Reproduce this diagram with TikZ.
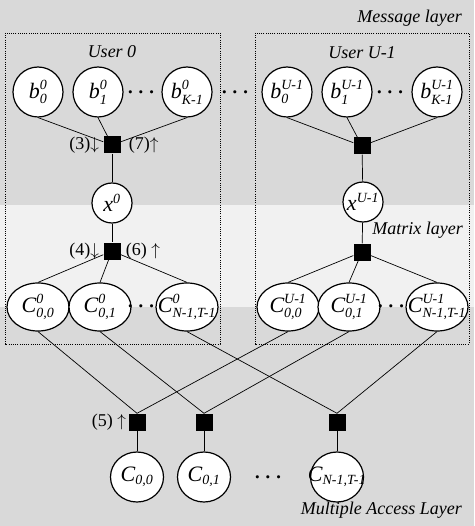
\documentclass[tikz,border=0pt]{standalone}
\usepackage{amsmath}
\usepackage{fontspec}
\setmainfont{Liberation Serif}
\usetikzlibrary{shapes.geometric,positioning}

\definecolor{layergray}{RGB}{217,217,217}
\definecolor{layerlight}{RGB}{241,241,241}

\newcommand\scr[1]{\mbox{\fontsize{14}{16}\selectfont\itshape #1}}
\newcommand\nlbl[3]{\makebox[0pt]{$\textit{#1}^{\scr{#3}}_{\scr{#2}}$}}
\newcommand\mlbl[2]{\makebox[0pt]{$\textit{#1}_{\scr{#2}}$}}

\begin{document}
\begin{tikzpicture}[x=1pt,y=1pt,yscale=-1,
  varnode/.style={circle,draw,line width=1.2pt,fill=white,minimum size=50pt,inner sep=0pt,font=\fontsize{22}{26}\selectfont},
  xnode/.style={varnode,minimum size=40pt},
  cnode/.style={ellipse,draw,line width=1.2pt,fill=white,minimum width=62pt,minimum height=48pt,inner sep=0pt,font=\fontsize{22}{26}\selectfont},
  mnode/.style={cnode,minimum width=53pt,minimum height=50pt},
  factor/.style={rectangle,fill=black,minimum size=17pt,inner sep=0pt},
  link/.style={line width=0.7pt},
  userbox/.style={line width=0.9pt,dash pattern=on 1pt off 1.2pt},
  layertext/.style={inner sep=0pt,font=\fontsize{18}{21}\selectfont\itshape},
  steplabel/.style={inner sep=0pt,font=\fontsize{18}{21}\selectfont},
  dotsnode/.style={inner sep=0pt,font=\fontsize{22}{26}\selectfont}]

% Layers
\fill[layergray] (0,0) rectangle (474,526);
\fill[layerlight] (0,205) rectangle (474,307);
\useasboundingbox (0,0) rectangle (474,526);

% Users
\draw[userbox] (5,33) rectangle (220,344);
\draw[userbox] (255,33) rectangle (469,344);

\node[layertext,anchor=east] (msg) at (462,18) {Message layer};
\node[layertext] (user0) at (112,52) {User 0};
\node[layertext] (userU) at (362,53) {User U-1};
\node[layertext,anchor=east] (mat) at (463,230) {Matrix layer};
\node[layertext,anchor=east] (mac) at (462,510) {Multiple Access Layer};

% Message layer
\node[varnode] (b00) at (38,92)  {\nlbl{b}{0}{0}};
\node[varnode] (b01) at (98,92)  {\nlbl{b}{1}{0}};
\node[varnode] (b0K) at (187,92) {\nlbl{b}{K-1}{0}};
\node[varnode] (bU0) at (287,92) {\nlbl{b}{0}{U-1}};
\node[varnode] (bU1) at (347,92) {\nlbl{b}{1}{U-1}};
\node[varnode] (bUK) at (437,92) {\nlbl{b}{K-1}{U-1}};

\node[dotsnode] (bd0) at (143,93) {$\boldsymbol{\cdots}$};
\node[dotsnode] (bdm) at (237,93) {$\boldsymbol{\cdots}$};
\node[dotsnode] (bdU) at (392,93) {$\boldsymbol{\cdots}$};

\node[factor] (fb0) at (112,145) {};
\node[factor] (fbU) at (362,146) {};

\node[steplabel,left=4pt of fb0]  (s3) {(3)$\downarrow$};
\node[steplabel,right=8pt of fb0] (s7) {(7)$\uparrow$};

\node[xnode] (x0) at (112,203) {\makebox[0pt]{$\textit{x}^{\scr{0}}$}};
\node[xnode] (xU) at (363,202) {\makebox[0pt]{$\textit{x}^{\scr{U-1}}$}};

% Matrix layer
\node[factor] (fx0) at (112,251) {};
\node[factor] (fxU) at (362,252) {};

\node[steplabel,left=4pt of fx0]  (s4) {(4)$\downarrow$};
\node[steplabel,right=5pt of fx0] (s6) {(6) $\uparrow$};

\node[cnode] (c000) at (38,307)  {\nlbl{C}{0,0}{0}};
\node[cnode] (c001) at (100,307) {\nlbl{C}{0,1}{0}};
\node[cnode] (c0NT) at (187,307) {\nlbl{C}{N-1,T-1}{0}};
\node[cnode] (cU00) at (288,307) {\nlbl{C}{0,0}{U-1}};
\node[cnode] (cU01) at (349,307) {\nlbl{C}{0,1}{U-1}};
\node[cnode] (cUNT) at (437,307) {\nlbl{C}{N-1,T-1}{U-1}};

\node[dotsnode] (cd0) at (143,307) {$\boldsymbol{\cdots}$};
\node[dotsnode] (cdU) at (393,307) {$\boldsymbol{\cdots}$};

% Multiple access layer
\node[factor] (fm1) at (137,422) {};
\node[factor] (fm2) at (204,422) {};
\node[factor] (fm3) at (337,422) {};

\node[steplabel,left=2pt of fm1] (s5) {(5) $\uparrow$};

\node[mnode] (m00) at (137,477) {\mlbl{C}{0,0}};
\node[mnode] (m01) at (204,477) {\mlbl{C}{0,1}};
\node[mnode] (mNT) at (337,477) {\mlbl{C}{N-1,T-1}};

\node[dotsnode] (md) at (270,478) {$\boldsymbol{\cdots}$};

% Links
\foreach \u in {0,U} {
  \foreach \k in {0,1,K} \draw[link] (b\u\k.south) -- (fb\u);
  \draw[link] (fb\u) -- (x\u) -- (fx\u);
  \foreach \c in {00,01,NT} \draw[link] (fx\u) -- (c\u\c.north);
  \draw[link] (c\u00.south) -- (fm1.north);
  \draw[link] (c\u01.south) -- (fm2.north);
  \draw[link] (c\u NT.south) -- (fm3.north);
}
\draw[link] (fm1) -- (m00);
\draw[link] (fm2) -- (m01);
\draw[link] (fm3) -- (mNT);

\end{tikzpicture}
\end{document}
